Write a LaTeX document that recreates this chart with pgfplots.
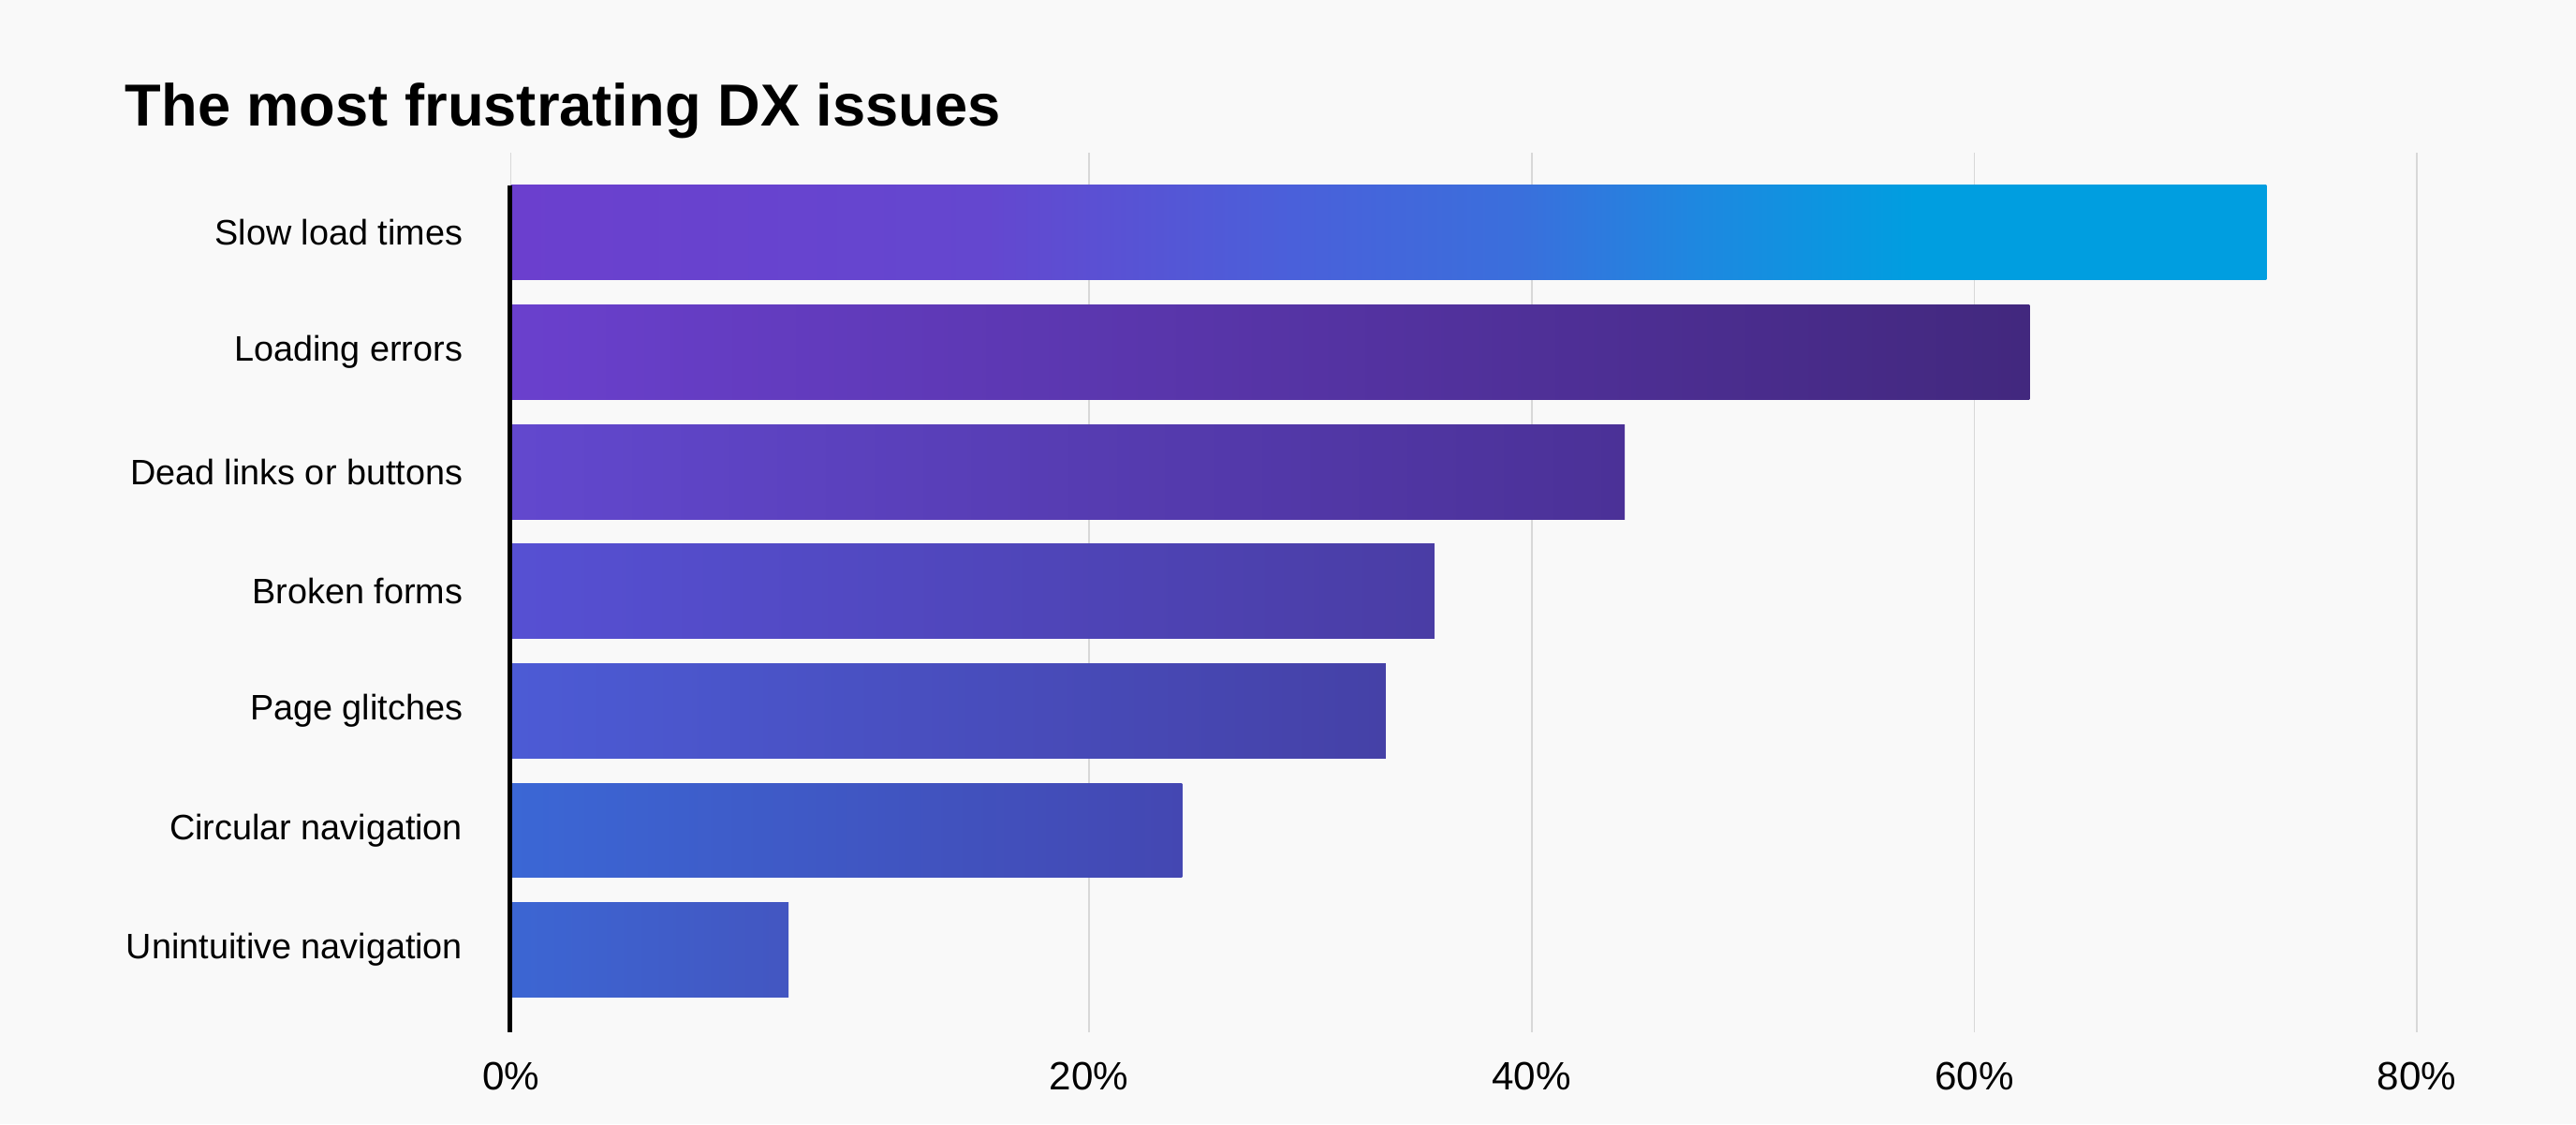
\documentclass[border=0pt]{standalone}
\usepackage{pgfplots}
\pgfplotsset{compat=1.18}
\usepackage{fontspec}
\setmainfont{Liberation Sans}
\definecolor{bg}{HTML}{F9F9F9}
\definecolor{gridc}{HTML}{D8D8D8}
\definecolor{ca}{HTML}{6B3FCE}
\definecolor{cb}{HTML}{6447CF}
\definecolor{cc}{HTML}{4A60DA}
\definecolor{cd}{HTML}{3A6FDC}
\definecolor{ce}{HTML}{1E88E0}
\definecolor{cf}{HTML}{009EE0}
\pgfdeclarehorizontalshading{shslow}{100bp}{color(0bp)=(ca); color(25bp)=(ca); color(38.5bp)=(cb); color(47.25bp)=(cc); color(53.75bp)=(cd); color(58.8bp)=(ce); color(65bp)=(cf); color(100bp)=(cf)}
\definecolor{l2a}{HTML}{6A40CD}\definecolor{l2b}{HTML}{42287E}
\definecolor{l3a}{HTML}{6248CE}\definecolor{l3b}{HTML}{4B3197}
\definecolor{l4a}{HTML}{5650D3}\definecolor{l4b}{HTML}{4A3DA5}
\definecolor{l5a}{HTML}{4C5BD5}\definecolor{l5b}{HTML}{4541A7}
\definecolor{l6a}{HTML}{3B67D5}\definecolor{l6b}{HTML}{4447B2}
\definecolor{l7a}{HTML}{3C66D3}\definecolor{l7b}{HTML}{4356C1}
\begin{document}
\begin{tikzpicture}
\path[fill=bg] (0,0) rectangle (27.51cm,12cm);
\node[anchor=base west, inner sep=0pt, font=\fontsize{18}{22}\selectfont\bfseries] at (1.33cm,10.65cm) {The most frustrating DX issues};
\begin{axis}[
  at={(5.456cm,0.982cm)}, anchor=south west,
  scale only axis, width=20.354cm, height=9.386cm,
  x coord trafo/.code={\pgfmathparse{#1<=20 ? 1.3065*#1 : #1+6.13}},
  x coord inv trafo/.code={\pgfmathparse{#1<=26.13 ? #1/1.3065 : #1-6.13}},
  xmin=0, xmax=80, ymin=-0.687, ymax=6.667,
  axis line style={draw=none},
  major tick length=0pt,
  xtick={0,20,40,60,80},
  xticklabels={0\%,20\%,40\%,60\%,80\%},
  xmajorgrids, grid style={color=gridc, line width=0.45pt},
  ytick={0,1,2,3,4,5,6},
  yticklabels={Unintuitive navigation, Circular navigation, Page glitches, Broken forms, Dead links or buttons, Loading errors, Slow load times},
  yticklabel style={anchor=east, inner sep=0pt, xshift=-0.508cm, font=\fontsize{10.75}{13}\selectfont},
  xticklabel style={anchor=center, inner sep=0pt, yshift=-0.474cm, font=\fontsize{12}{14}\selectfont},
  clip=false,
]
\addplot[xbar, bar shift=0pt, bar width=1.009cm, draw=none, shading=shslow, shade] coordinates {(73.2,6)};
\addplot[xbar, bar shift=0pt, bar width=1.009cm, draw=none, left color=l2a, right color=l2b] coordinates {(62.5,5)};
\addplot[xbar, bar shift=0pt, bar width=1.009cm, draw=none, left color=l3a, right color=l3b] coordinates {(44.2,4)};
\addplot[xbar, bar shift=0pt, bar width=1.009cm, draw=none, left color=l4a, right color=l4b] coordinates {(35.6,3)};
\addplot[xbar, bar shift=0pt, bar width=1.009cm, draw=none, left color=l5a, right color=l5b] coordinates {(33.4,2)};
\addplot[xbar, bar shift=0pt, bar width=1.009cm, draw=none, left color=l6a, right color=l6b] coordinates {(24.2,1)};
\addplot[xbar, bar shift=0pt, bar width=1.009cm, draw=none, left color=l7a, right color=l7b] coordinates {(9.6,0)};
\draw[black, line width=0.05cm, xshift=-0.01cm] (axis cs:0,6.395) -- (axis cs:0,-0.687);
\end{axis}
\end{tikzpicture}
\end{document}
